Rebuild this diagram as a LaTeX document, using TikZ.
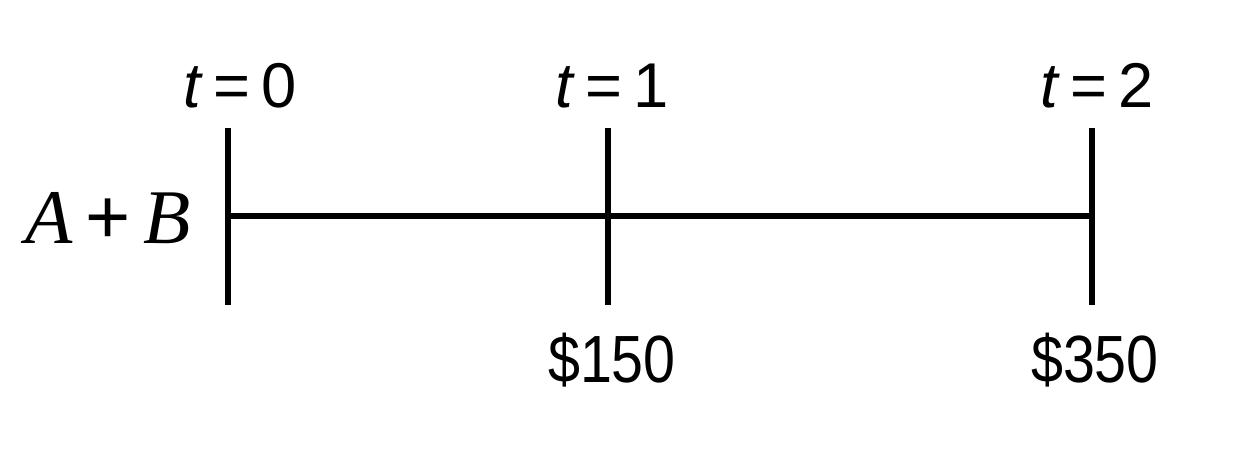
\documentclass[tikz,border=0pt]{standalone}
\usepackage{fontspec}
\setmainfont{Liberation Sans}
\newfontfamily\serifit{Liberation Serif}
\usepackage{tikz}
\usetikzlibrary{positioning}

\begin{document}
\begin{tikzpicture}[
  tick/.style={line width=1.7pt},
  lbl/.style={font=\fontsize{18}{22}\selectfont},
  cash/.style={font=\fontsize{19}{23}\selectfont\addfontfeature{FakeStretch=0.86}},
  ]
\useasboundingbox (0, 0) rectangle (12.5, -4.56);

\coordinate (top0) at (2.28, -1.28);
\coordinate (bot0) at (2.28, -3.05);
\coordinate (top1) at (6.08, -1.28);
\coordinate (bot1) at (6.08, -3.05);
\coordinate (top2) at (10.92, -1.28);
\coordinate (bot2) at (10.92, -3.05);
\coordinate (mid0) at (2.28, -2.16);
\coordinate (mid2) at (10.92, -2.16);

\draw[tick] (mid0) -- (mid2);

\draw[tick] (top0) -- (bot0);
\draw[tick] (top1) -- (bot1);
\draw[tick] (top2) -- (bot2);

\node[lbl] (t0) at (2.40, -0.86) {\textit{t}\,=\,0};
\node[lbl] (t1) at (6.12, -0.86) {\textit{t}\,=\,1};
\node[lbl] (t2) at (10.97, -0.86) {\textit{t}\,=\,2};

\node[font=\fontsize{22}{26}\selectfont] (ab) at (1.08, -2.18)
  {{\serifit\itshape A}\,+\,{\serifit\itshape B}};

\node[cash] (c1) at (6.12, -3.60) {\$150};
\node[cash] (c2) at (10.95, -3.60) {\$350};
\end{tikzpicture}
\end{document}
